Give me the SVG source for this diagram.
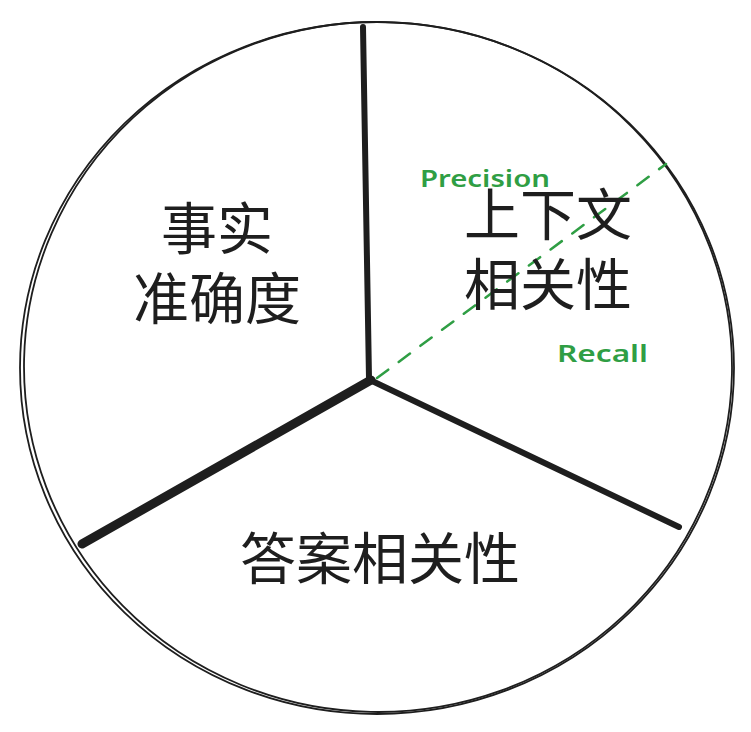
<svg xmlns="http://www.w3.org/2000/svg" width="751" height="732" viewBox="0 0 751 732">
<style>
.ring{fill:none;stroke:#1e1e1e;stroke-width:1.8}
.spoke{fill:none;stroke:#1e1e1e;stroke-linecap:round;stroke-linejoin:round}
.cjk{font-family:"Noto Sans CJK SC","Noto Sans",sans-serif;font-size:56px;fill:#1e1e1e;text-anchor:middle}
.hand{font-family:"Noto Sans","Liberation Sans",sans-serif;font-size:24px;font-weight:600;fill:#2f9e44}
</style>
<rect width="751" height="732" fill="#ffffff"/>
<g id="circle">
<ellipse class="ring" cx="377" cy="368" rx="357" ry="346"/>
<ellipse class="ring" cx="378" cy="367" rx="354" ry="345" transform="rotate(1.2 378 367)"/>
</g>
<g id="connectors">
<path class="spoke" d="M363 27 L369 378" stroke-width="6"/>
<path class="spoke" d="M371 380 L82 544" stroke-width="9"/>
<path class="spoke" d="M370 380 L679 527" stroke-width="6"/>
<path d="M377 378 L666 164" fill="none" stroke="#2f9e44" stroke-width="2.5" stroke-dasharray="14 13" stroke-linecap="round"/>
</g>
<g id="node-factual">
<text class="cjk" x="217" y="249">事实</text>
<text class="cjk" x="217" y="319">准确度</text>
</g>
<g id="node-context">
<text class="cjk" x="548" y="235">上下文</text>
<text class="cjk" x="548" y="305">相关性</text>
</g>
<g id="node-answer">
<text class="cjk" x="380" y="579">答案相关性</text>
</g>
<g id="label-precision">
<text class="hand" x="420" y="187" textLength="130" lengthAdjust="spacingAndGlyphs">Precision</text>
</g>
<g id="label-recall">
<text class="hand" x="557" y="362" textLength="91" lengthAdjust="spacingAndGlyphs">Recall</text>
</g>
</svg>
